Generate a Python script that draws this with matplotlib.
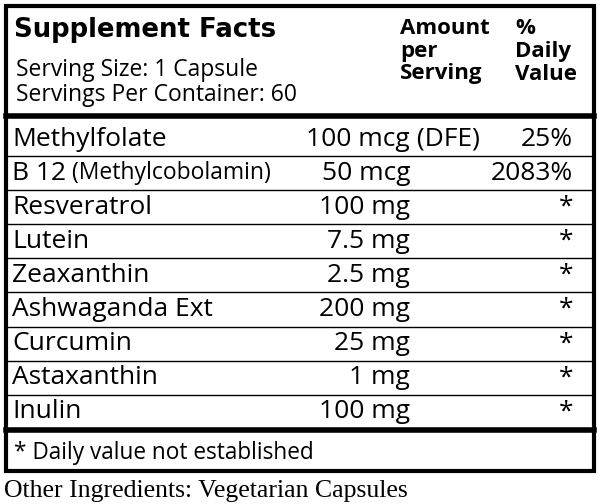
import matplotlib
matplotlib.use("Agg")
import matplotlib.pyplot as plt

names = ["Methylfolate", "B 12", "Resveratrol", "Lutein", "Zeaxanthin",
         "Ashwaganda Ext", "Curcumin", "Astaxanthin", "Inulin"]
name_notes = ["", " (Methylcobolamin)", "", "", "", "", "", "", ""]
amounts = ["100 mcg", "50 mcg", "100 mg", "7.5 mg", "2.5 mg", "200 mg", "25 mg", "1 mg", "100 mg"]
amount_notes = [" (DFE)", "", "", "", "", "", "", "", ""]
daily = ["25%", "2083%", "*", "*", "*", "*", "*", "*", "*"]

fig = plt.figure(figsize=(6, 5.04), dpi=100)
ax = fig.add_axes([0, 0, 1, 1])
ax.set_xlim(0, 600); ax.set_ylim(504, 0); ax.axis("off")
F = "Open Sans"
ax.add_patch(plt.Rectangle((6, 6), 588, 465, fill=False, lw=3, ec="black"))
ax.text(14, 30, "Supplement Facts", fontsize=18.7, fontweight="bold",
        family=["Liberation Sans Narrow", "DejaVu Sans"], va="center")
ax.text(16, 70, "Serving Size: 1 Capsule", fontsize=16.5, family=F, va="center")
ax.text(16, 95, "Servings Per Container: 60", fontsize=16.5, family=F, va="center")
for i, t in enumerate(["Amount", "per", "Serving"]):
    ax.text(400, 28 + 23 * i, t, fontsize=16, fontweight="bold", family=F, va="center")
for i, t in enumerate(["%", "Daily", "Value"]):
    ax.text(515, 28 + 23 * i, t, fontsize=16, fontweight="bold", family=F, va="center")
ax.plot([6, 594], [116, 116], color="black", lw=4)
y0, dy = 139, 34.1
for i in range(len(names)):
    y = y0 + i * dy
    t = ax.text(12, y, names[i], fontsize=19, family=F, va="center")
    if name_notes[i]:
        ax.annotate(name_notes[i], xycoords=t, xy=(1, 0.5), va="center",
                    fontsize=16.5, family=F)
    ax.text(410, y, amounts[i], fontsize=19, family=F, va="center", ha="right")
    if amount_notes[i]:
        ax.text(410, y, amount_notes[i], fontsize=19, family=F, va="center", ha="left")
    ax.text(573, y, daily[i], fontsize=19, family=F, va="center", ha="right")
    if i < len(names) - 1:
        ax.plot([6, 594], [y + dy / 2] * 2, color="black", lw=1)
ax.plot([6, 594], [430, 430], color="black", lw=4)
ax.text(14, 453, "* Daily value not established", fontsize=16.3, family=F, va="center")
ax.text(4, 491, "Other Ingredients: Vegetarian Capsules", fontsize=18.5,
        family="Liberation Serif", va="center")
fig.savefig("out.png", dpi=100)
